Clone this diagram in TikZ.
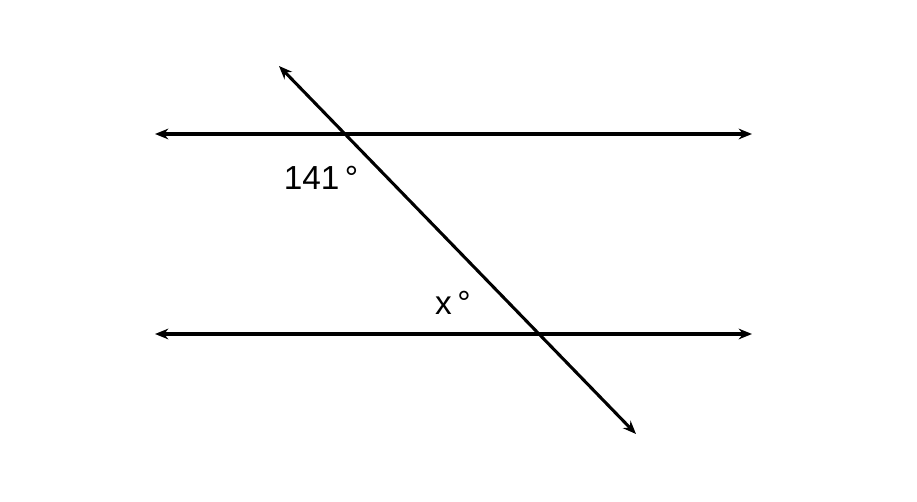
\documentclass[tikz,border=0pt]{standalone}
\usepackage{fontspec}
\setmainfont{Liberation Sans}
\usetikzlibrary{arrows.meta}
\tikzset{>={Stealth[length=10pt,width=8pt]}}
\tikzset{parline/.style={<->, line width=2.3pt},
         anglabel/.style={font=\fontsize{25}{30}\selectfont, inner sep=0pt}}

\begin{document}
\begin{tikzpicture}[x=0.75pt, y=-0.75pt]
            \useasboundingbox (0,0) rectangle (917,502);
            \coordinate (topL) at (155,134);
            \coordinate (topR) at (752,134);
            \coordinate (botL) at (155,334);
            \coordinate (botR) at (752,334);
            \coordinate (transA) at (279,66);
            \coordinate (transB) at (636,434);
            \draw[parline] (topL) -- (topR);
            \draw[parline] (botL) -- (botR);
            \draw[parline] (transA) -- (transB);
            \node[anglabel] (obtuse) at (321,178) {141\,°};
            \node[anglabel] (unknown) at (453,303) {x\,°};
        \end{tikzpicture}
\end{document}
